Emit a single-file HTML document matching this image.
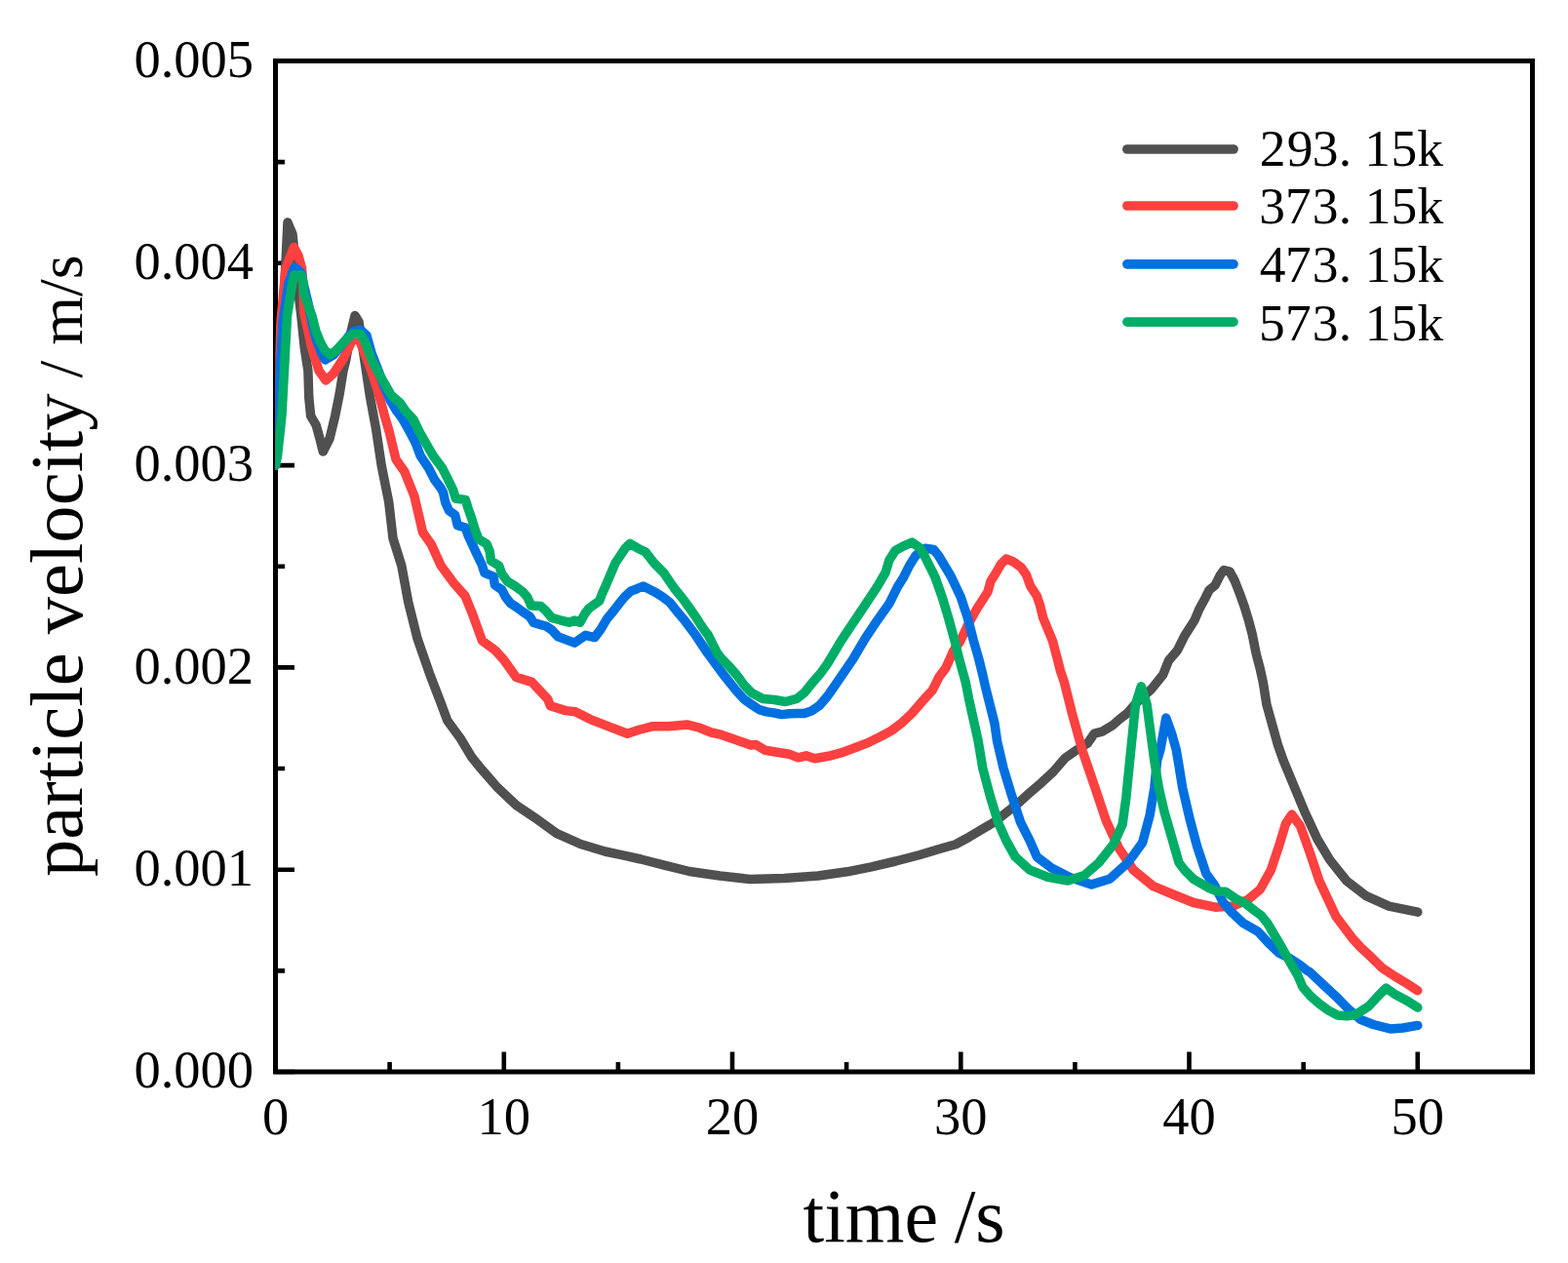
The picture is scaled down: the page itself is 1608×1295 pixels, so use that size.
<!DOCTYPE html>
<html><head><meta charset="utf-8"><style>html,body{margin:0;padding:0;background:#fff;}svg{display:block}</style></head>
<body><svg width="1608" height="1295" viewBox="0 0 1608 1295">
<rect x="282.5" y="62.5" width="1289" height="1036.5" fill="none" stroke="#000" stroke-width="5"/>
<path d="M282.5 1099V1078.5M399.6 1099V1089M516.8 1099V1078.5M633.9 1099V1089M751.0 1099V1078.5M868.1 1099V1089M985.3 1099V1078.5M1102.4 1099V1089M1219.5 1099V1078.5M1336.7 1099V1089M1453.8 1099V1078.5M282.5 1099.0H302M282.5 995.4H292M282.5 891.7H302M282.5 788.0H292M282.5 684.4H302M282.5 580.8H292M282.5 477.1H302M282.5 373.4H292M282.5 269.8H302M282.5 166.1H292M282.5 62.5H302" stroke="#000" stroke-width="4.6" fill="none"/>
<g font-family="'Liberation Serif', serif" font-size="54.5" fill="#000"><text x="282.5" y="1162.5" text-anchor="middle">0</text><text x="516.8" y="1162.5" text-anchor="middle">10</text><text x="751.0" y="1162.5" text-anchor="middle">20</text><text x="985.3" y="1162.5" text-anchor="middle">30</text><text x="1219.5" y="1162.5" text-anchor="middle">40</text><text x="1453.8" y="1162.5" text-anchor="middle">50</text><text x="260" y="1115.2" text-anchor="end">0.000</text><text x="260" y="907.9" text-anchor="end">0.001</text><text x="260" y="700.6" text-anchor="end">0.002</text><text x="260" y="493.3" text-anchor="end">0.003</text><text x="260" y="286.0" text-anchor="end">0.004</text><text x="260" y="78.7" text-anchor="end">0.005</text></g>
<text x="823.5" y="1273" font-family="'Liberation Serif', serif" font-size="78">time<tspan x="978.7">/s</tspan></text>
<text transform="translate(84 899) rotate(-90)" x="0" y="0" font-family="'Liberation Serif', serif" font-size="76.6">particle velocity<tspan font-size="64"> / m/s</tspan></text>
<clipPath id="pc"><rect x="282.3" y="60" width="1290" height="1040"/></clipPath><g clip-path="url(#pc)">
<path d="M282.5 477.0 L289.0 350.0 L295.0 228.0 L300.0 240.0 L303.0 270.0 L306.0 300.0 L309.0 325.0 L312.3 357.0 L315.9 380.0 L316.8 407.8 L318.6 426.3 L324.2 436.0 L327.9 449.5 L331.3 463.0 L338.1 449.5 L343.7 426.3 L348.3 403.2 L352.0 380.0 L354.6 369.8 L360.0 340.0 L364.0 323.5 L368.0 330.0 L372.0 357.0 L379.5 407.0 L385.6 440.0 L391.2 477.3 L398.7 514.6 L403.0 552.0 L411.8 580.0 L418.7 617.3 L428.0 654.6 L441.0 692.0 L451.8 720.0 L458.7 738.7 L472.3 757.3 L483.5 776.0 L493.5 788.4 L509.7 807.0 L529.6 825.7 L548.2 838.2 L570.6 854.3 L595.5 865.5 L620.3 873.0 L638.7 876.8 L657.3 881.0 L682.2 887.3 L707.0 893.5 L738.2 898.0 L769.3 901.5 L804.1 900.5 L838.9 898.0 L868.8 893.8 L893.6 888.8 L918.5 883.0 L943.4 876.5 L963.3 870.5 L980.0 865.7 L993.9 858.2 L1007.8 849.9 L1018.9 843.4 L1031.9 833.2 L1044.9 823.0 L1056.0 812.8 L1068.0 802.6 L1080.0 791.5 L1092.1 777.3 L1102.1 770.3 L1115.2 762.3 L1122.2 752.2 L1130.2 750.2 L1140.3 744.2 L1148.3 737.2 L1156.0 731.4 L1166.3 719.6 L1181.0 706.4 L1192.7 691.8 L1198.6 677.1 L1207.4 666.8 L1214.7 652.1 L1225.0 636.0 L1230.0 624.2 L1236.0 613.2 L1240.0 605.1 L1246.1 600.1 L1251.1 590.1 L1255.1 584.5 L1261.1 586.1 L1266.1 595.1 L1271.2 608.2 L1276.2 622.2 L1280.2 635.3 L1284.2 650.3 L1288.2 670.4 L1292.2 685.5 L1295.3 699.5 L1298.9 722.2 L1310.5 763.9 L1316.2 780.0 L1327.0 806.0 L1337.8 831.9 L1350.8 860.0 L1363.7 881.6 L1381.0 903.2 L1400.5 918.3 L1424.3 929.1 L1453.8 935.2" fill="none" stroke="#505050" stroke-width="9.5" stroke-linejoin="round" stroke-linecap="round"/>
<path d="M282.5 477.0 L288.0 330.0 L293.0 275.0 L301.3 253.5 L306.0 262.0 L309.5 275.0 L311.0 295.0 L311.7 320.0 L319.8 357.3 L327.0 380.0 L334.1 390.0 L342.0 383.0 L352.0 368.0 L362.0 347.4 L366.0 342.5 L374.0 362.5 L380.5 379.4 L386.0 396.4 L391.0 413.4 L394.0 425.0 L399.3 443.2 L406.0 471.0 L414.8 483.5 L424.8 508.4 L433.5 545.7 L442.2 558.0 L452.2 580.0 L466.0 598.7 L477.0 611.0 L484.6 629.8 L494.5 657.0 L508.0 667.0 L517.0 677.0 L529.4 694.4 L545.5 699.4 L561.7 716.8 L564.4 723.7 L580.0 728.6 L590.0 729.8 L604.9 737.3 L623.5 744.7 L643.4 752.2 L654.6 748.5 L669.6 744.7 L685.7 744.7 L704.4 742.9 L716.8 746.0 L729.3 751.0 L740.0 753.4 L750.0 756.9 L759.9 760.4 L769.9 763.9 L774.8 763.4 L784.8 769.3 L799.7 771.8 L809.7 773.3 L818.6 776.8 L826.6 774.8 L835.5 777.8 L849.5 775.3 L864.4 771.3 L879.3 765.8 L889.3 761.9 L903.9 754.7 L914.3 749.1 L924.7 741.2 L935.2 731.4 L945.6 719.3 L956.0 708.1 L963.0 694.2 L969.9 684.9 L977.8 667.3 L984.4 658.0 L992.5 641.0 L1001.9 624.0 L1012.9 607.0 L1016.0 596.0 L1022.2 586.0 L1026.5 578.4 L1031.9 573.0 L1039.5 576.2 L1047.0 581.6 L1052.4 589.2 L1056.8 601.1 L1063.2 610.8 L1066.5 620.5 L1069.7 633.5 L1075.1 646.5 L1079.5 657.3 L1083.8 673.5 L1087.5 688.0 L1091.4 699.5 L1099.1 730.2 L1110.2 770.3 L1123.1 808.0 L1134.3 841.6 L1147.4 869.6 L1162.3 892.0 L1182.8 908.7 L1205.2 918.0 L1223.9 925.5 L1246.3 930.2 L1264.3 929.1 L1279.5 922.6 L1292.4 911.8 L1303.2 892.4 L1311.9 866.5 L1318.4 844.8 L1324.8 835.1 L1333.5 847.0 L1342.1 870.8 L1353.0 903.2 L1370.2 939.9 L1386.6 961.7 L1395.3 971.3 L1406.6 981.8 L1417.1 992.2 L1430.1 1000.9 L1443.2 1008.8 L1453.8 1015.7" fill="none" stroke="#fd4040" stroke-width="9.5" stroke-linejoin="round" stroke-linecap="round"/>
<path d="M282.5 477.0 L290.0 330.0 L296.0 290.0 L302.0 274.0 L306.0 277.0 L309.0 280.0 L311.0 290.0 L316.5 313.0 L320.2 331.8 L324.0 347.2 L330.0 362.7 L333.5 369.0 L342.0 364.0 L352.0 352.0 L358.0 344.0 L364.0 339.0 L370.0 338.5 L376.0 344.0 L381.0 362.0 L388.0 380.0 L394.0 396.0 L400.0 410.0 L406.5 421.0 L413.1 430.0 L420.0 442.4 L426.5 454.9 L431.1 467.3 L439.5 479.8 L445.8 492.2 L451.8 500.0 L454.5 505.0 L456.8 515.5 L460.5 523.6 L466.7 528.0 L469.2 538.6 L477.3 541.0 L480.4 549.8 L484.8 559.1 L489.1 568.4 L494.3 579.3 L496.8 587.4 L506.1 591.1 L507.4 599.9 L514.8 604.8 L518.6 612.3 L523.5 618.5 L531.0 623.5 L536.0 627.2 L543.4 632.2 L547.2 638.4 L553.4 640.3 L560.0 642.0 L566.0 646.0 L572.4 652.9 L589.2 659.1 L600.4 651.3 L609.8 653.5 L616.0 645.4 L622.2 634.8 L628.4 627.4 L634.6 619.3 L640.8 611.8 L647.1 605.9 L653.3 603.7 L659.6 601.0 L672.0 607.2 L679.5 612.0 L687.0 617.8 L694.4 627.1 L702.2 636.3 L709.2 645.6 L713.2 651.0 L725.5 669.5 L740.0 689.3 L747.7 699.0 L755.4 708.6 L763.2 717.1 L770.9 722.5 L778.6 727.6 L786.3 729.9 L794.1 731.0 L801.8 732.6 L809.5 731.8 L817.2 731.4 L824.9 731.4 L832.7 728.7 L840.4 723.3 L848.1 714.4 L855.8 703.6 L874.7 675.9 L887.1 654.9 L899.4 636.4 L911.8 619.1 L920.4 601.8 L926.6 591.9 L932.8 579.5 L939.0 569.7 L948.8 562.2 L957.5 563.5 L962.7 570.0 L975.1 590.8 L985.2 612.0 L992.5 634.0 L998.4 657.0 L1003.6 675.0 L1007.8 692.0 L1010.5 704.2 L1019.9 741.5 L1022.6 760.0 L1029.1 787.8 L1037.5 815.6 L1046.7 843.4 L1056.0 861.9 L1063.4 878.6 L1078.4 890.0 L1097.0 899.4 L1119.4 906.9 L1138.0 901.3 L1156.7 884.5 L1171.6 864.0 L1179.1 836.0 L1183.8 808.0 L1186.6 780.0 L1190.0 768.5 L1195.8 736.1 L1201.6 752.3 L1206.2 768.5 L1209.0 785.0 L1212.7 808.0 L1220.1 839.7 L1227.6 867.7 L1236.9 895.7 L1245.6 907.8 L1253.9 924.5 L1263.2 935.6 L1275.2 946.7 L1290.0 955.1 L1300.8 966.8 L1311.6 977.0 L1322.4 982.5 L1333.2 989.5 L1340.0 994.9 L1343.1 996.6 L1356.1 1008.8 L1369.2 1020.9 L1382.2 1034.0 L1395.3 1045.3 L1408.4 1050.5 L1425.8 1054.9 L1438.8 1054.0 L1453.8 1051.4" fill="none" stroke="#0070e0" stroke-width="9.5" stroke-linejoin="round" stroke-linecap="round"/>
<path d="M282.5 477.0 L284.5 468.0 L289.0 426.0 L291.5 380.0 L294.5 324.0 L300.5 287.0 L302.0 281.7 L305.0 283.0 L308.6 281.7 L311.0 290.0 L311.5 300.0 L314.3 308.6 L320.0 324.0 L323.9 339.5 L328.6 351.0 L333.0 359.0 L338.6 363.8 L345.0 359.0 L354.0 349.2 L361.8 342.2 L369.5 342.2 L374.0 350.0 L382.0 371.0 L391.4 388.0 L401.1 405.0 L410.5 413.4 L416.0 421.5 L424.0 430.0 L429.9 442.4 L437.0 454.9 L444.2 467.3 L453.5 479.8 L459.8 492.2 L464.5 502.0 L467.4 511.2 L477.3 512.4 L479.8 520.5 L483.5 531.1 L487.3 543.5 L491.0 552.9 L499.1 557.8 L502.2 565.3 L503.5 575.0 L511.6 580.0 L514.8 588.7 L520.4 596.1 L528.5 601.1 L536.0 606.7 L540.9 612.3 L544.7 621.0 L554.6 621.6 L559.6 626.0 L565.8 633.4 L574.3 635.8 L583.6 638.2 L589.2 636.1 L594.8 638.2 L599.8 629.2 L603.5 624.3 L608.5 620.5 L614.7 616.2 L617.2 609.3 L620.9 601.2 L631.0 577.3 L641.0 562.4 L646.0 557.4 L654.6 562.4 L662.0 566.0 L670.8 577.3 L680.7 587.3 L685.6 594.6 L692.0 603.9 L699.7 613.2 L706.4 622.4 L712.9 631.7 L718.9 641.0 L723.6 647.9 L726.1 650.9 L735.4 669.4 L740.0 675.4 L747.7 683.2 L755.4 692.0 L763.2 702.5 L770.9 710.6 L782.5 716.4 L794.1 717.5 L805.6 719.5 L817.2 716.4 L824.9 710.2 L832.7 700.5 L840.4 691.7 L848.1 681.2 L855.8 668.5 L862.4 657.4 L874.7 638.9 L887.1 620.3 L899.4 601.8 L908.1 587.0 L911.8 574.6 L918.0 564.7 L926.6 559.8 L935.3 556.1 L943.9 562.2 L948.1 570.0 L958.9 591.6 L966.5 613.2 L973.0 634.9 L978.9 656.5 L984.3 678.1 L990.3 699.7 L993.7 717.2 L1003.2 760.0 L1007.8 787.8 L1015.2 815.6 L1023.6 843.4 L1031.9 861.9 L1041.2 878.6 L1056.0 892.0 L1074.6 899.4 L1095.1 903.1 L1112.0 897.5 L1126.9 884.5 L1141.8 865.8 L1151.1 845.3 L1154.9 817.3 L1158.6 780.0 L1164.5 722.2 L1170.3 703.7 L1176.1 722.2 L1180.7 757.0 L1183.8 780.0 L1188.4 808.0 L1194.0 832.2 L1201.5 858.4 L1209.0 884.5 L1214.6 892.0 L1223.9 901.3 L1240.0 910.6 L1249.3 914.3 L1256.7 914.3 L1267.8 921.7 L1277.1 926.3 L1287.0 934.0 L1293.2 938.5 L1299.5 946.2 L1305.9 957.0 L1312.4 967.8 L1318.4 978.6 L1324.6 989.5 L1330.8 1000.0 L1335.9 1012.0 L1344.0 1021.3 L1353.2 1029.3 L1362.5 1036.1 L1371.8 1041.0 L1381.0 1041.8 L1390.0 1040.5 L1404.0 1031.4 L1413.6 1020.9 L1421.4 1013.1 L1430.1 1019.2 L1443.2 1026.2 L1453.8 1033.1" fill="none" stroke="#00ad66" stroke-width="9.5" stroke-linejoin="round" stroke-linecap="round"/>
</g>
<line x1="1155.9" y1="153.0" x2="1265" y2="153.0" stroke="#505050" stroke-width="9.7" stroke-linecap="round"/>
<text x="1291.8 1319.8 1345.7 1372.8 1382.8 1399.3 1426.6 1453.3" y="169.8" font-family="'Liberation Serif', serif" font-size="53.5" xml:space="preserve">293. 15k</text>
<line x1="1155.9" y1="211.0" x2="1265" y2="211.0" stroke="#fd4040" stroke-width="9.7" stroke-linecap="round"/>
<text x="1291.2 1318.0 1345.8 1372.8 1382.8 1399.8 1426.4 1453.5" y="229.3" font-family="'Liberation Serif', serif" font-size="53.5" xml:space="preserve">373. 15k</text>
<line x1="1155.9" y1="270.85" x2="1265" y2="270.85" stroke="#0070e0" stroke-width="9.7" stroke-linecap="round"/>
<text x="1291.8 1318.0 1345.8 1372.8 1382.8 1399.8 1426.4 1453.5" y="288.8" font-family="'Liberation Serif', serif" font-size="53.5" xml:space="preserve">473. 15k</text>
<line x1="1155.9" y1="330.1" x2="1265" y2="330.1" stroke="#00ad66" stroke-width="9.7" stroke-linecap="round"/>
<text x="1290.9 1318.0 1345.8 1372.8 1382.8 1399.8 1426.4 1453.5" y="348.6" font-family="'Liberation Serif', serif" font-size="53.5" xml:space="preserve">573. 15k</text>
</svg></body></html>
